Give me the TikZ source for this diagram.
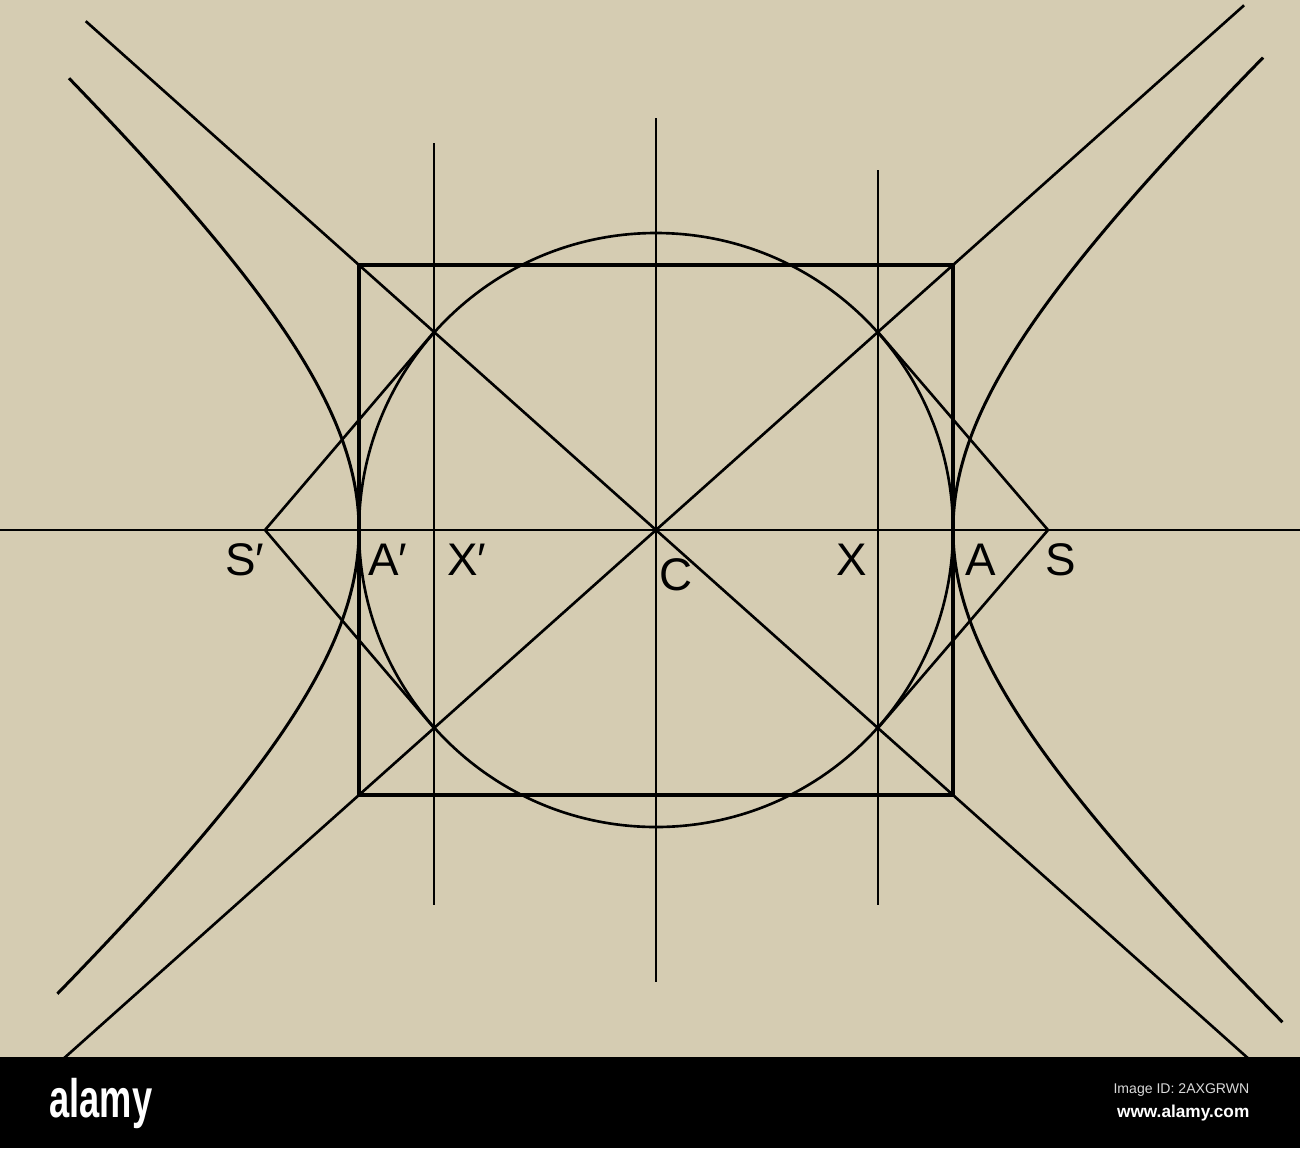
\documentclass[tikz,border=0pt]{standalone}
\usepackage{fontspec}
\setmainfont{Liberation Sans}
\usetikzlibrary{calc}
\begin{document}
\begin{tikzpicture}[x=0.01cm,y=-0.01cm]
\definecolor{paper}{RGB}{213,204,178}
\tikzset{
  ln/.style={line width=0.75pt, black},
  heavy/.style={line width=1.2pt, black},
  curve/.style={line width=0.85pt, black},
  lbl/.style={font=\fontsize{13}{13}\selectfont, inner sep=0pt, text=black},
}
\fill[paper] (0,0) rectangle (1300,1148);
\useasboundingbox (0,0) rectangle (1300,1148);
% key points
\coordinate (C) at (656,530);
\coordinate (S) at (1048,530);
\coordinate (Sp) at (265,530);
\coordinate (Pul) at (434,332);
\coordinate (Pll) at (434,728);
\coordinate (Pur) at (878,332);
\coordinate (Plr) at (878,728);
\coordinate (Rtl) at (359,265);
\coordinate (Rtr) at (953,265);
\coordinate (Rbr) at (953,795);
\coordinate (Rbl) at (359,795);
% axes ends
\coordinate (AxL) at (0,530);
\coordinate (AxR) at (1300,530);
\coordinate (AxT) at (656,118);
\coordinate (AxB) at (656,982);
\coordinate (XpT) at (434,143);
\coordinate (XpB) at (434,905);
\coordinate (XT) at (878,170);
\coordinate (XB) at (878,905);
% asymptote ends
\coordinate (As1a) at ($(C)!1.92!(Rtl)$);
\coordinate (As1b) at ($(C)!2.05!(Rbr)$);
\coordinate (As2a) at ($(C)!1.98!(Rtr)$);
\coordinate (As2b) at ($(C)!2.05!(Rbl)$);
% axes and directrices
\draw[ln] (AxL) -- (AxR);
\draw[ln] (AxT) -- (AxB);
\draw[ln] (XpT) -- (XpB);
\draw[ln] (XT) -- (XB);
% rectangle
\draw[heavy] (Rtl) -- (Rtr) -- (Rbr) -- (Rbl) -- cycle;
% circle
\draw[ln] (C) circle [radius=297];
% asymptotes
\draw[ln] (As1a) -- (As1b);
\draw[ln] (As2a) -- (As2b);
% tangents from foci
\draw[ln] (Sp) -- (Pul);
\draw[ln] (Sp) -- (Pll);
\draw[ln] (S) -- (Pur);
\draw[ln] (S) -- (Plr);
% hyperbola branches
\draw[curve] plot[domain=-1.378:1.343, samples=120, smooth, variable=\t]
  ({656+297*cosh(\t)}, {530-265*sinh(\t)});
\draw[curve] plot[domain=-1.326:1.304, samples=120, smooth, variable=\t]
  ({656-297*cosh(\t)}, {530-265*sinh(\t)});
% labels
\node[lbl] (lSp) at (245,560) {S′};
\node[lbl] (lAp) at (388,560) {A′};
\node[lbl] (lXp) at (467,560) {X′};
\node[lbl] (lC) at (676,575) {C};
\node[lbl] (lX) at (852,560) {X};
\node[lbl] (lA) at (981,560) {A};
\node[lbl] (lS) at (1061,560) {S};
% bottom band
\fill[black] (0,1057) rectangle (1300,1148);
\node[inner sep=0pt, anchor=base, text=white, font=\bfseries\fontsize{15.4}{16}\selectfont, xscale=0.67] (logo) at (101,1117) {alamy};
\node[inner sep=0pt, anchor=base east, text=white!85!black, font=\fontsize{4}{5}\selectfont] (imgid) at (1250,1093) {Image ID: 2AXGRWN};
\node[inner sep=0pt, anchor=base east, text=white, font=\bfseries\fontsize{4.9}{6}\selectfont] (www) at (1250,1117) {www.alamy.com};
\end{tikzpicture}
\end{document}
